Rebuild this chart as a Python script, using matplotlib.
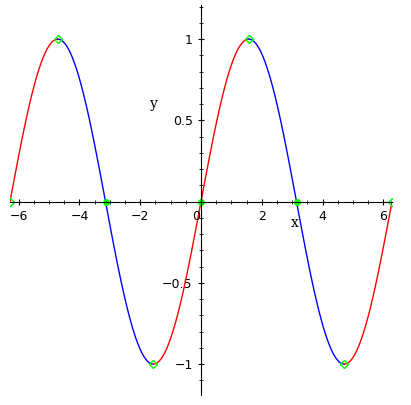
import numpy as np
import matplotlib
matplotlib.use("Agg")
import matplotlib.pyplot as plt
from matplotlib.ticker import MultipleLocator

# breakpoints (extrema) where monotonicity changes
breaks = [-2*np.pi, -1.5*np.pi, -0.5*np.pi, 0.5*np.pi, 1.5*np.pi, 2*np.pi]
seg_colors = ['red', 'blue', 'red', 'blue', 'red']
ext_x = [-2*np.pi, -1.5*np.pi, -0.5*np.pi, 0.5*np.pi, 1.5*np.pi, 2*np.pi]
zero_x = [-np.pi, 0.0, np.pi]
xticks = [-6, -4, -2, 2, 4, 6]
yticks = [-1, -0.5, 0.5, 1]

fig = plt.figure(figsize=(4.11, 4.05), dpi=100)
ax = fig.add_axes([10/411, 10/405, 382/411, 390/405])
for (a, b), c in zip(zip(breaks[:-1], breaks[1:]), seg_colors):
    xs = np.linspace(a, b, 100)
    ax.plot(xs, np.sin(xs), color=c, lw=1)
ax.plot(ext_x, np.sin(ext_x), 'D', mfc='none', mec='#00ff00', ms=4, mew=1)
ax.plot(zero_x, np.sin(zero_x), 'o', color='#00ff00', ms=4)
ax.set_xlim(-2*np.pi, 2*np.pi)
ax.set_ylim(-1.19, 1.21)
for s in ['top', 'right']:
    ax.spines[s].set_visible(False)
ax.spines['left'].set_position(('data', 0))
ax.spines['bottom'].set_position(('data', 0))
ax.set_xticks(xticks)
ax.set_yticks(yticks)
ax.set_xticklabels(['−6', '−4', '−2', '2', '4', '6'])
ax.set_yticklabels(['−1', '−0.5', '0.5', '1'])
ax.xaxis.set_minor_locator(MultipleLocator(0.5))
ax.yaxis.set_minor_locator(MultipleLocator(0.1))
ax.tick_params(which='major', length=5, labelsize=9, direction='in')
ax.tick_params(which='minor', length=3, direction='in')
ax.tick_params(axis='x', which='both', direction='inout')
ax.tick_params(axis='y', which='both', direction='inout')
ax.text(-0.15, -0.05, '0', ha='center', va='top', fontsize=9)
ax.text(3.1, -0.13, 'x', fontsize=10, family='serif', va='center', ha='center')
ax.text(-1.55, 0.6, 'y', fontsize=10, family='serif', va='center', ha='center')
fig.savefig('out.png', dpi=100)
